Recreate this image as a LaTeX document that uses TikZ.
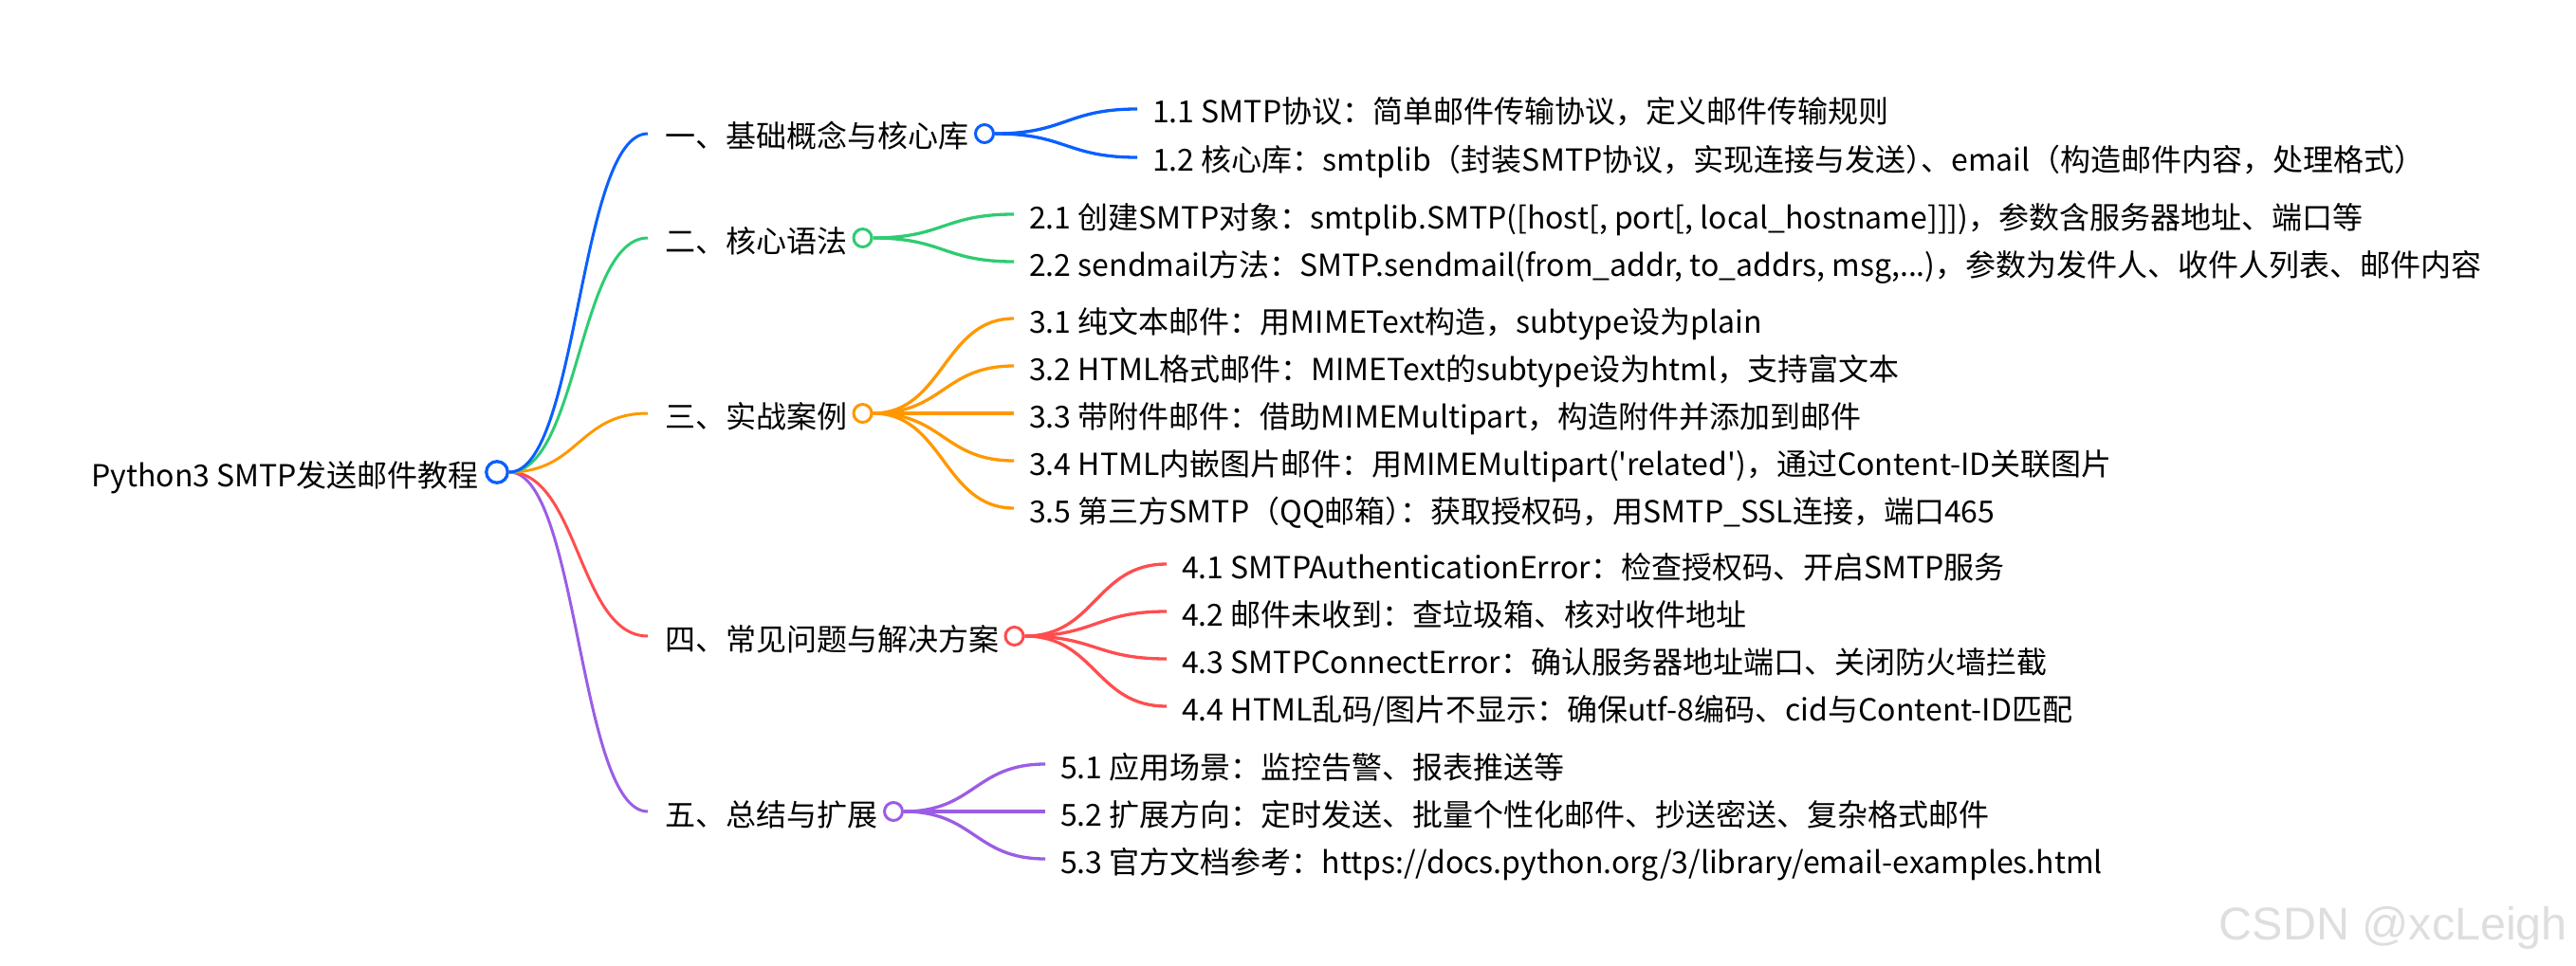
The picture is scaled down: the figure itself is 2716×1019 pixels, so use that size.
\documentclass[tikz,border=0pt]{standalone}
\usepackage{fontspec}
\usepackage{tikz}
\usetikzlibrary{calc}
\newfontfamily\cjkfont{Noto Sans CJK SC}
\newfontfamily\markfont{Liberation Sans}
\definecolor{cblue}{HTML}{0A5FFF}
\definecolor{cgreen}{HTML}{2ECC71}
\definecolor{corange}{HTML}{FF9800}
\definecolor{cred}{HTML}{FF4D4F}
\definecolor{cpurple}{HTML}{9B5DE5}
\newcommand{\pk}{\kern-16pt}
\tikzset{
	topic/.style={anchor=west, inner xsep=16pt, inner ysep=0pt, text height=33pt, text depth=3pt, font=\cjkfont\fontsize{32}{38}\selectfont},
	head/.style={topic, inner xsep=18pt},
	dot/.style={circle, draw=#1, fill=white, line width=3pt, minimum size=19pt, inner sep=0pt},
	rootdot/.style={circle, draw=#1, fill=white, line width=3.3pt, minimum size=22.5pt, inner sep=0pt},
	link/.style={line width=#1, to path={let \p1=(\tikztostart), \p2=(\tikztotarget), \n1={0.5*\x1+0.5*\x2} in .. controls (\n1,\y1) and (\n1,\y2) .. (\p2)}},
}

\begin{document}
\begin{tikzpicture}[x=1pt, y=-1pt]
	\useasboundingbox (0,0) rectangle (2716,1019);
	% first level
	\node[topic] (root) at (80,498) {Python3 SMTP发送邮件教程};
	\node[head] (t1) at (683,141) {一、基础概念与核心库};
	\node[head] (t2) at (683,251) {二、核心语法};
	\node[head] (t3) at (683,436) {三、实战案例};
	\node[head] (t4) at (683,671) {四、常见问题与解决方案};
	\node[head] (t5) at (683,856) {五、总结与扩展};
	% second level
	\node[topic] (t11) at (1199,115) {1.1 SMTP协议：简单邮件传输协议，定义邮件传输规则};
	\node[topic] (t12) at (1199,166) {1.2 核心库：smtplib（封装SMTP协议，实现连接与发送）\pk、email（构造邮件内容，处理格式）};
	\node[topic] (t21) at (1069,226) {2.1 创建SMTP对象：smtplib.SMTP([host[, port[, local\_hostname]]])，参数含服务器地址、端口等};
	\node[topic] (t22) at (1069,276) {2.2 sendmail方法：SMTP.sendmail(from\_addr, to\_addrs, msg,...)，参数为发件人、收件人列表、邮件内容};
	\node[topic] (t31) at (1069,336) {3.1 纯文本邮件：用MIMEText构造，subtype设为plain};
	\node[topic] (t32) at (1069,386) {3.2 HTML格式邮件：MIMEText的subtype设为html，支持富文本};
	\node[topic] (t33) at (1069,436) {3.3 带附件邮件：借助MIMEMultipart，构造附件并添加到邮件};
	\node[topic] (t34) at (1069,486) {3.4 HTML内嵌图片邮件：用MIMEMultipart('related')，通过Content-ID关联图片};
	\node[topic] (t35) at (1069,536) {3.5 第三方SMTP（QQ邮箱）\pk：获取授权码，用SMTP\_SSL连接，端口465};
	\node[topic] (t41) at (1230,595) {4.1 SMTPAuthenticationError：检查授权码、开启SMTP服务};
	\node[topic] (t42) at (1230,645) {4.2 邮件未收到：查垃圾箱、核对收件地址};
	\node[topic] (t43) at (1230,695) {4.3 SMTPConnectError：确认服务器地址端口、关闭防火墙拦截};
	\node[topic] (t44) at (1230,745) {4.4 HTML乱码/图片不显示：确保utf-8编码、cid与Content-ID匹配};
	\node[topic] (t51) at (1102,806) {5.1 应用场景：监控告警、报表推送等};
	\node[topic] (t52) at (1102,856) {5.2 扩展方向：定时发送、批量个性化邮件、抄送密送、复杂格式邮件};
	\node[topic] (t53) at (1102,906) {5.3 官方文档参考：https://docs.python.org/3/library/email-examples.html};
	% circles
	\node[rootdot=cblue] (d0) at (524,498) {};
	\node[dot=cblue] (d1) at (1038,141) {};
	\node[dot=cgreen] (d2) at (909.5,251) {};
	\node[dot=corange] (d3) at (909.5,436) {};
	\node[dot=cred] (d4) at (1069.5,671) {};
	\node[dot=cpurple] (d5) at (942,856) {};
	% links
	\draw[cpurple, link=3pt] (d0.east) edge (t5.west);
	\draw[cred, link=3pt] (d0.east) edge (t4.west);
	\draw[corange, link=3pt] (d0.east) edge (t3.west);
	\draw[cgreen, link=3pt] (d0.east) edge (t2.west);
	\draw[cblue, link=3pt] (d0.east) edge (t1.west);
	\draw[cblue, link=3.3pt] (d1.east) edge (t11.west)
			(d1.east) edge (t12.west);
	\draw[cgreen, link=3.3pt] (d2.east) edge (t21.west)
			(d2.east) edge (t22.west);
	\draw[corange, link=3.3pt] (d3.east) edge (t31.west)
			(d3.east) edge (t32.west)
			(d3.east) edge (t33.west)
			(d3.east) edge (t34.west)
			(d3.east) edge (t35.west);
	\draw[cred, link=3.3pt] (d4.east) edge (t41.west)
			(d4.east) edge (t42.west)
			(d4.east) edge (t43.west)
			(d4.east) edge (t44.west);
	\draw[cpurple, link=3.3pt] (d5.east) edge (t51.west)
			(d5.east) edge (t52.west)
			(d5.east) edge (t53.west);
	% watermark
	\node[anchor=base west, inner sep=0pt, text=black!13, font=\markfont\fontsize{48.5}{58}\selectfont] (mark) at (2339.5,991) {CSDN @xcLeigh};
\end{tikzpicture}
\end{document}
